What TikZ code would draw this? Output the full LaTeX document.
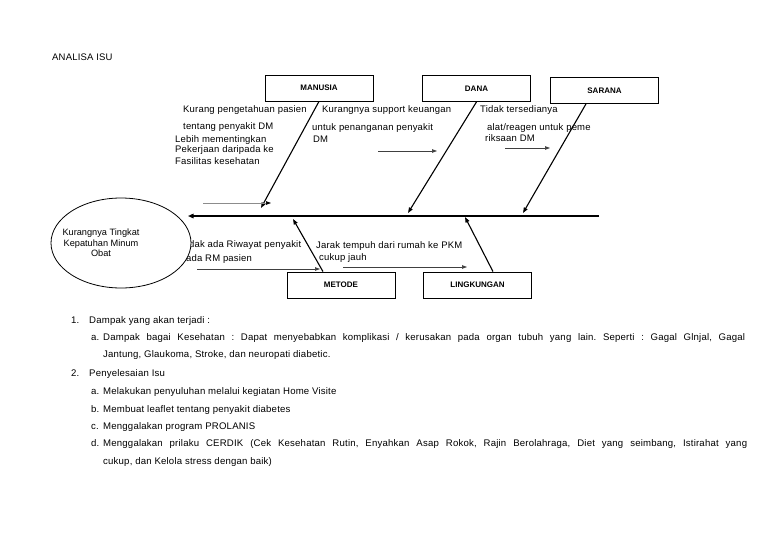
\documentclass[tikz,border=0pt]{standalone}
\usepackage{fontspec}
\setmainfont{Liberation Sans}
\newfontfamily\spaced[LetterSpace=2]{Liberation Sans}
\usetikzlibrary{arrows.meta,shapes.geometric}
\frenchspacing
\tikzset{
  box/.style={draw, line width=0.8pt, minimum width=108pt, minimum height=26pt, inner sep=0pt,
    font=\bfseries\fontsize{8}{9}\selectfont},
  lbl/.style={anchor=base west, inner sep=0pt, font=\spaced\fontsize{9.5}{11}\selectfont},
  listtxt/.style={anchor=base west, inner sep=0pt, font=\spaced\fontsize{9.6}{11}\selectfont},
  bone/.style={line width=1.1pt, -{Triangle[length=5.5pt,width=4pt]}},
  spine/.style={line width=1.3pt, -{Triangle[length=5.5pt,width=4.5pt]}},
  smallarrow/.style={line width=0.7pt, black!75, -{Triangle[length=5pt,width=3.5pt]}},
  effect/.style={draw, ellipse, line width=0.8pt, fill=white, minimum width=140pt, minimum height=90pt}
}
\begin{document}
\begin{tikzpicture}[x=1pt,y=-1pt]
\useasboundingbox (0,0) rectangle (768,543);
\fill[white] (0,0) rectangle (768,543);

\node[lbl] (title) at (52,61) {ANALISA ISU};

% category boxes
\node[box] (manusia) at (319,88) {MANUSIA};
\node[box] (dana) at (476.5,88.5) {DANA};
\node[box] (sarana) at (604.5,90.5) {SARANA};
\node[box] (metode) at (341,285) {METODE};
\node[box] (lingkungan) at (477.5,285) {LINGKUNGAN};

% cause texts
\node[lbl] (t1) at (183,112.5) {Kurang pengetahuan pasien};
\node[lbl] (t2) at (183,129.5) {tentang penyakit DM};
\node[lbl] (t3) at (175,142.5) {Lebih mementingkan};
\node[lbl] (t4) at (175,152.5) {Pekerjaan daripada ke};
\node[lbl] (t5) at (175,164.5) {Fasilitas kesehatan};
\node[lbl] (t6) at (322,112.5) {Kurangnya support keuangan};
\node[lbl] (t7) at (312,130.5) {untuk penanganan penyakit};
\node[lbl] (t8) at (313,142) {DM};
\node[lbl] (t9) at (480,112.5) {Tidak tersedianya};
\node[lbl] (t10) at (487,130.5) {alat/reagen untuk peme};
\node[lbl] (t11) at (485,141.5) {riksaan DM};
\node[lbl] (t12) at (181,247.5) {Tidak ada Riwayat penyakit};
\node[lbl] (t13) at (180.5,261) {pada RM pasien};
\node[lbl] (t14) at (316,248) {Jarak tempuh dari rumah ke PKM};
\node[lbl] (t15) at (319,260.5) {cukup jauh};

% effect
\node[effect] (eff) at (121,243) {};
\node[align=center, inner sep=0pt, font=\fontsize{9.2}{10.5}\selectfont] (efftext) at (101,243)
  {Kurangnya Tingkat\\Kepatuhan Minum\\Obat};

% spine
\coordinate (spR) at (599,216);
\coordinate (spL) at (188,216);
\draw[spine] (spR) -- (spL);

% bone tips
\coordinate (mT) at (261,208);
\coordinate (dT) at (408,213);
\coordinate (sT) at (523,213);
\coordinate (meT) at (293,219);
\coordinate (lT) at (465,217);

\draw[bone] (manusia.south) -- (mT);
\draw[bone] (dana.south) -- (dT);
\draw[bone] ([xshift=-18.5pt]sarana.south) -- (sT);
\draw[bone] ([xshift=-18pt]metode.north) -- (meT);
\draw[bone] ([xshift=15.5pt]lingkungan.north) -- (lT);

% small arrows
\coordinate (a1s) at (203,203); \coordinate (a1e) at (271,203);
\coordinate (a2s) at (378,151); \coordinate (a2e) at (437,151);
\coordinate (a3s) at (505,148); \coordinate (a3e) at (550,148);
\coordinate (a4s) at (197,269); \coordinate (a4e) at (320,269);
\coordinate (a5s) at (343,267); \coordinate (a5e) at (467,267);
\draw[line width=0.7pt, draw=black!45, -{Triangle[length=5pt,width=3.5pt,color=black]}] (a1s) -- (a1e);
\draw[smallarrow] (a2s) -- (a2e);
\draw[smallarrow] (a3s) -- (a3e);
\draw[smallarrow] (a4s) -- (a4e);
\draw[smallarrow] (a5s) -- (a5e);

% list
\node[listtxt] (n1) at (71,323) {1.};
\node[listtxt] (l1) at (89,323) {Dampak yang akan terjadi :};
\node[listtxt] (n1a) at (91,340.5) {a.};
\node[listtxt] (l1a) at (103,340.5) {\makebox[642pt][s]{Dampak bagai Kesehatan : Dapat menyebabkan komplikasi / kerusakan pada organ tubuh yang lain. Seperti : Gagal Glnjal, Gagal}};
\node[listtxt] (l1b) at (103,357.5) {Jantung, Glaukoma, Stroke, dan neuropati diabetic.};
\node[listtxt] (n2) at (71,376.5) {2.};
\node[listtxt] (l2) at (89,376.5) {Penyelesaian Isu};
\node[listtxt] (n2a) at (91,394.5) {a.};
\node[listtxt] (l2a) at (103,394.5) {Melakukan penyuluhan melalui kegiatan Home Visite};
\node[listtxt] (n2b) at (91,412.5) {b.};
\node[listtxt] (l2b) at (103,412.5) {Membuat leaflet tentang penyakit diabetes};
\node[listtxt] (n2c) at (91,429.5) {c.};
\node[listtxt] (l2c) at (103,429.5) {Menggalakan program PROLANIS};
\node[listtxt] (n2d) at (91,446.5) {d.};
\node[listtxt] (l2d) at (103,446.5) {\makebox[644pt][s]{Menggalakan prilaku CERDIK (Cek Kesehatan Rutin, Enyahkan Asap Rokok, Rajin Berolahraga, Diet yang seimbang, Istirahat yang}};
\node[listtxt] (l2e) at (103,464.5) {cukup, dan Kelola stress dengan baik)};
\end{tikzpicture}
\end{document}
